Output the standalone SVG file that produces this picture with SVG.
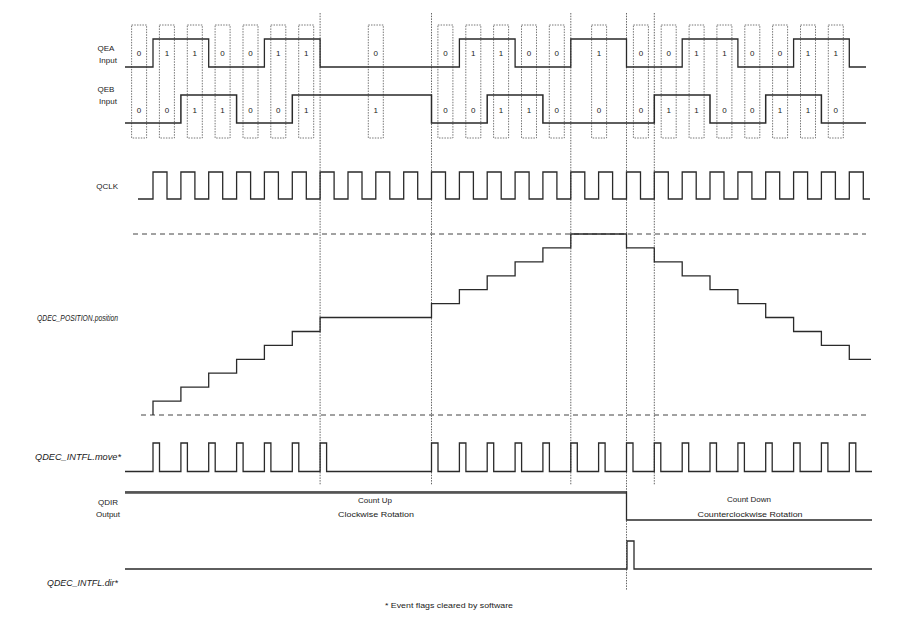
<svg xmlns="http://www.w3.org/2000/svg" width="900" height="619" viewBox="0 0 900 619">
<style>
text{font-family:"Liberation Sans",Arial,sans-serif;font-size:8px;fill:#1a1a1a}
.it{font-style:italic;font-size:9px}
.mid{text-anchor:middle}
.end{text-anchor:end}
.sig{fill:none;stroke:#2a2a2a;stroke-width:1.3}
.box{fill:none;stroke:#777;stroke-width:1;stroke-dasharray:1.5,1.2}
.guide{fill:none;stroke:#666;stroke-width:1;stroke-dasharray:1.5,1.2}
.lim{fill:none;stroke:#444;stroke-width:1;stroke-dasharray:5,4}
</style>
<rect width="900" height="619" fill="#fff"/>

<g id="guides">
<line class="guide" x1="320.1" y1="13" x2="320.1" y2="485"/>
<line class="guide" x1="431.5" y1="13" x2="431.5" y2="485"/>
<line class="guide" x1="570.8" y1="13" x2="570.8" y2="485"/>
<line class="guide" x1="626.5" y1="13" x2="626.5" y2="590"/>
<line class="guide" x1="654.3" y1="13" x2="654.3" y2="485"/>
</g>

<g id="sample-boxes">
<rect class="box" x="131.6" y="25" width="15" height="113"/>
<rect class="box" x="159.4" y="25" width="15" height="113"/>
<rect class="box" x="187.3" y="25" width="15" height="113"/>
<rect class="box" x="215.1" y="25" width="15" height="113"/>
<rect class="box" x="243" y="25" width="15" height="113"/>
<rect class="box" x="270.8" y="25" width="15" height="113"/>
<rect class="box" x="298.7" y="25" width="15" height="113"/>
<rect class="box" x="368.3" y="25" width="15" height="113"/>
<rect class="box" x="437.9" y="25" width="15" height="113"/>
<rect class="box" x="465.8" y="25" width="15" height="113"/>
<rect class="box" x="493.6" y="25" width="15" height="113"/>
<rect class="box" x="521.5" y="25" width="15" height="113"/>
<rect class="box" x="549.3" y="25" width="15" height="113"/>
<rect class="box" x="591.6" y="25" width="15" height="113"/>
<rect class="box" x="633.4" y="25" width="15" height="113"/>
<rect class="box" x="661.2" y="25" width="15" height="113"/>
<rect class="box" x="689.1" y="25" width="15" height="113"/>
<rect class="box" x="716.9" y="25" width="15" height="113"/>
<rect class="box" x="744.8" y="25" width="15" height="113"/>
<rect class="box" x="772.6" y="25" width="15" height="113"/>
<rect class="box" x="800.5" y="25" width="15" height="113"/>
<rect class="box" x="828.3" y="25" width="15" height="113"/>
</g>

<g id="qea">
<text class="mid" x="106" y="51">QEA</text>
<text class="mid" x="108" y="63">Input</text>
<path class="sig" d="M125,67 H153 V39 H208.7 V67 H264.4 V39 H320.1 V67 H459.4 V39 H515.1 V67 H570.8 V39 H626.5 V67 H682.2 V39 H737.9 V67 H793.6 V39 H849.3 V67 H866"/>
<g class="mid">
<text x="139.1" y="55.5">0</text><text x="166.9" y="55.5">1</text><text x="194.8" y="55.5">1</text><text x="222.6" y="55.5">0</text><text x="250.5" y="55.5">0</text><text x="278.3" y="55.5">1</text><text x="306.2" y="55.5">1</text>
<text x="375.8" y="55.5">0</text>
<text x="445.4" y="55.5">0</text><text x="473.3" y="55.5">1</text><text x="501.1" y="55.5">1</text><text x="529" y="55.5">0</text><text x="556.8" y="55.5">0</text>
<text x="599.1" y="55.5">1</text>
<text x="640.9" y="55.5">0</text><text x="668.7" y="55.5">0</text><text x="696.6" y="55.5">1</text><text x="724.4" y="55.5">1</text><text x="752.3" y="55.5">0</text><text x="780.1" y="55.5">0</text><text x="808" y="55.5">1</text><text x="835.8" y="55.5">1</text>
</g>
</g>

<g id="qeb">
<text class="mid" x="106" y="92">QEB</text>
<text class="mid" x="108" y="104">Input</text>
<path class="sig" style="stroke-width:1.5" d="M125,123 H180.9 V95 H236.6 V123 H292.3 V95 H431.5 V123 H487.2 V95 H542.9 V123 H654.3 V95 H710 V123 H765.7 V95 H821.4 V123 H866"/>
<g class="mid">
<text x="139.1" y="112.5">0</text><text x="166.9" y="112.5">0</text><text x="194.8" y="112.5">1</text><text x="222.6" y="112.5">1</text><text x="250.5" y="112.5">0</text><text x="278.3" y="112.5">0</text><text x="306.2" y="112.5">1</text>
<text x="375.8" y="112.5">1</text>
<text x="445.4" y="112.5">0</text><text x="473.3" y="112.5">0</text><text x="501.1" y="112.5">1</text><text x="529" y="112.5">1</text><text x="556.8" y="112.5">0</text>
<text x="599.1" y="112.5">0</text>
<text x="640.9" y="112.5">0</text><text x="668.7" y="112.5">1</text><text x="696.6" y="112.5">1</text><text x="724.4" y="112.5">0</text><text x="752.3" y="112.5">0</text><text x="780.1" y="112.5">1</text><text x="808" y="112.5">1</text><text x="835.8" y="112.5">0</text>
</g>
</g>

<g id="qclk">
<text class="end" x="118" y="189">QCLK</text>
<path class="sig" d="M138,199 H153V172H167V199 H180.9V172H194.9V199 H208.7V172H222.7V199 H236.6V172H250.6V199 H264.4V172H278.4V199 H292.3V172H306.3V199 H320.1V172H334.1V199 H348V172H362V199 H375.8V172H389.8V199 H403.7V172H417.7V199 H431.5V172H445.5V199 H459.4V172H473.4V199 H487.2V172H501.2V199 H515.1V172H529.1V199 H542.9V172H556.9V199 H570.8V172H584.8V199 H598.6V172H612.6V199 H626.5V172H640.5V199 H654.3V172H668.3V199 H682.2V172H696.2V199 H710V172H724V199 H737.9V172H751.9V199 H765.7V172H779.7V199 H793.6V172H807.6V199 H821.4V172H835.4V199 H849.3V172H863.3V199 H870"/>
</g>

<g id="position">
<text class="it end" x="118" y="321" textLength="81" lengthAdjust="spacingAndGlyphs">QDEC_POSITION.position</text>
<line class="lim" x1="133" y1="234" x2="866" y2="234"/>
<line class="lim" x1="141" y1="415" x2="870" y2="415"/>
<path class="sig" d="M153,415 V401.1 H180.9 V387.2 H208.7 V373.2 H236.6 V359.3 H264.4 V345.4 H292.3 V331.5 H320.1 V317.5 H431.5 V303.6 H459.4 V289.7 H487.2 V275.8 H515.1 V261.8 H542.9 V247.9 H570.8 V234 H626.5 V247.9 H654.3 V261.8 H682.2 V275.8 H710 V289.7 H737.9 V303.6 H765.7 V317.5 H793.6 V331.5 H821.4 V345.4 H849.3 V359.3 H871"/>
</g>

<g id="move">
<text class="it end" x="121" y="460" textLength="86" lengthAdjust="spacingAndGlyphs">QDEC_INTFL.move*</text>
<path class="sig" d="M125,471.5 H153V443H159.5V471.5 H180.9V443H187.4V471.5 H208.7V443H215.2V471.5 H236.6V443H243.1V471.5 H264.4V443H270.9V471.5 H292.3V443H298.8V471.5 H320.1V443H326.6V471.5 H431.5V443H438V471.5 H459.4V443H465.9V471.5 H487.2V443H493.7V471.5 H515.1V443H521.6V471.5 H542.9V443H549.4V471.5 H570.8V443H577.3V471.5 H598.6V443H605.1V471.5 H626.5V443H633V471.5 H654.3V443H660.8V471.5 H682.2V443H688.7V471.5 H710V443H716.5V471.5 H737.9V443H744.4V471.5 H765.7V443H772.2V471.5 H793.6V443H800.1V471.5 H821.4V443H827.9V471.5 H849.3V443H855.8V471.5 H872"/>
</g>

<g id="qdir">
<text class="mid" x="108" y="505">QDIR</text>
<text class="mid" x="108" y="517">Output</text>
<path class="sig" d="M125,492 H626.5 V520 H872"/>
<path class="sig" style="stroke-width:0.8" d="M125,493.3 H626.5"/>
<text class="mid" x="375" y="503">Count Up</text>
<text class="mid" x="376" y="517" textLength="76" lengthAdjust="spacingAndGlyphs">Clockwise Rotation</text>
<text class="mid" x="749" y="502">Count Down</text>
<text class="mid" x="750" y="517" textLength="105" lengthAdjust="spacingAndGlyphs">Counterclockwise Rotation</text>
</g>

<g id="dir">
<text class="it end" x="118" y="586" textLength="71" lengthAdjust="spacingAndGlyphs">QDEC_INTFL.dir*</text>
<path class="sig" d="M125,569 H627 V541 H634 V569 H872"/>
</g>

<g id="footnote">
<text x="385" y="608" textLength="128" lengthAdjust="spacingAndGlyphs">* Event flags cleared by software</text>
</g>
</svg>
